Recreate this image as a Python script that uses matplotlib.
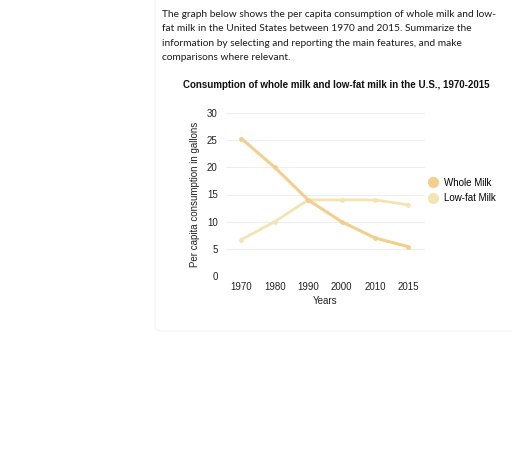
import matplotlib
matplotlib.use("Agg")
import matplotlib.pyplot as plt
from matplotlib.patches import FancyBboxPatch
from matplotlib.lines import Line2D

# data
years = ["1970", "1980", "1990", "2000", "2010", "2015"]
whole_milk = [25.3, 20.0, 14.0, 10.0, 7.0, 5.4]
low_fat_milk = [6.7, 10.0, 14.0, 14.0, 14.0, 13.1]
y_ticks = [0, 5, 10, 15, 20, 25, 30]

WHOLE_COLOR = "#f2cf8c"
LOWFAT_COLOR = "#f3e4b2"
FONT = ["Liberation Sans", "DejaVu Sans"]

prompt = (
    "The graph below shows the per capita consumption of whole milk and low-\n"
    "fat milk in the United States between 1970 and 2015. Summarize the\n"
    "information by selecting and reporting the main features, and make\n"
    "comparisons where relevant."
)

W, H = 512, 454
fig = plt.figure(figsize=(W / 100, H / 100), dpi=100)
fig.patch.set_facecolor("white")

# card behind the question, drawn in a background axes
bg = fig.add_axes([0, 0, 1, 1], zorder=-5)
bg.set_xlim(0, W)
bg.set_ylim(H, 0)
bg.axis("off")
bg.add_patch(FancyBboxPatch(
    (155, -20), 420, 351,
    boxstyle="round,pad=0,rounding_size=6",
    facecolor="white", edgecolor="#efefef", linewidth=0.6,
))

fig.text(162 / W, 1 - 10 / H, prompt, ha="left", va="top", fontsize=7.3,
         family=["Lato", "DejaVu Sans"], color="#1a1a1a", linespacing=1.78)

fig.text(336 / W, 1 - 85 / H,
         "Consumption of whole milk and low-fat milk in the U.S., 1970-2015",
         ha="center", va="center", fontsize=7.0, fontweight="bold", family=FONT,
         color="#111111")

ax = fig.add_axes([226 / W, 1 - 276 / H, 199 / W, 163 / H])
ax.patch.set_alpha(0)
x = list(range(len(years)))
ax.plot(x, low_fat_milk, color=LOWFAT_COLOR, lw=2.0, marker="o", ms=2.5,
        solid_capstyle="round", zorder=3)
ax.plot(x, whole_milk, color=WHOLE_COLOR, lw=2.2, marker="o", ms=2.5,
        solid_capstyle="round", zorder=4)

ax.set_xlim(-0.46, 5.5)
ax.set_ylim(0, 30)
ax.set_yticks(y_ticks)
ax.set_xticks(x)
ax.set_xticklabels(years)
for s in ax.spines.values():
    s.set_visible(False)
ax.grid(axis="y", color="#eeeeee", lw=0.8)
ax.set_axisbelow(True)
ax.tick_params(length=0, labelsize=7, labelcolor="#222222")
ax.tick_params(axis="x", pad=4)
ax.tick_params(axis="y", pad=6)
for lab in ax.get_xticklabels() + ax.get_yticklabels():
    lab.set_family(FONT)
ax.set_xlabel("Years", fontsize=7, family=FONT, color="#222222", labelpad=3)
ax.set_ylabel("Per capita consumption in gallons", fontsize=7, family=FONT,
              color="#222222", labelpad=5)

handles = [
    Line2D([], [], ls="none", marker="o", ms=7, color=WHOLE_COLOR),
    Line2D([], [], ls="none", marker="o", ms=7, color=LOWFAT_COLOR),
]
fig.legend(handles, ["Whole Milk", "Low-fat Milk"], loc="upper left",
           bbox_to_anchor=(423 / W, 1 - 174 / H), frameon=False,
           prop={"family": FONT, "size": 7}, handletextpad=0.6,
           labelspacing=0.55, handlelength=1.2, borderaxespad=0)

fig.savefig("out.png", dpi=100)
